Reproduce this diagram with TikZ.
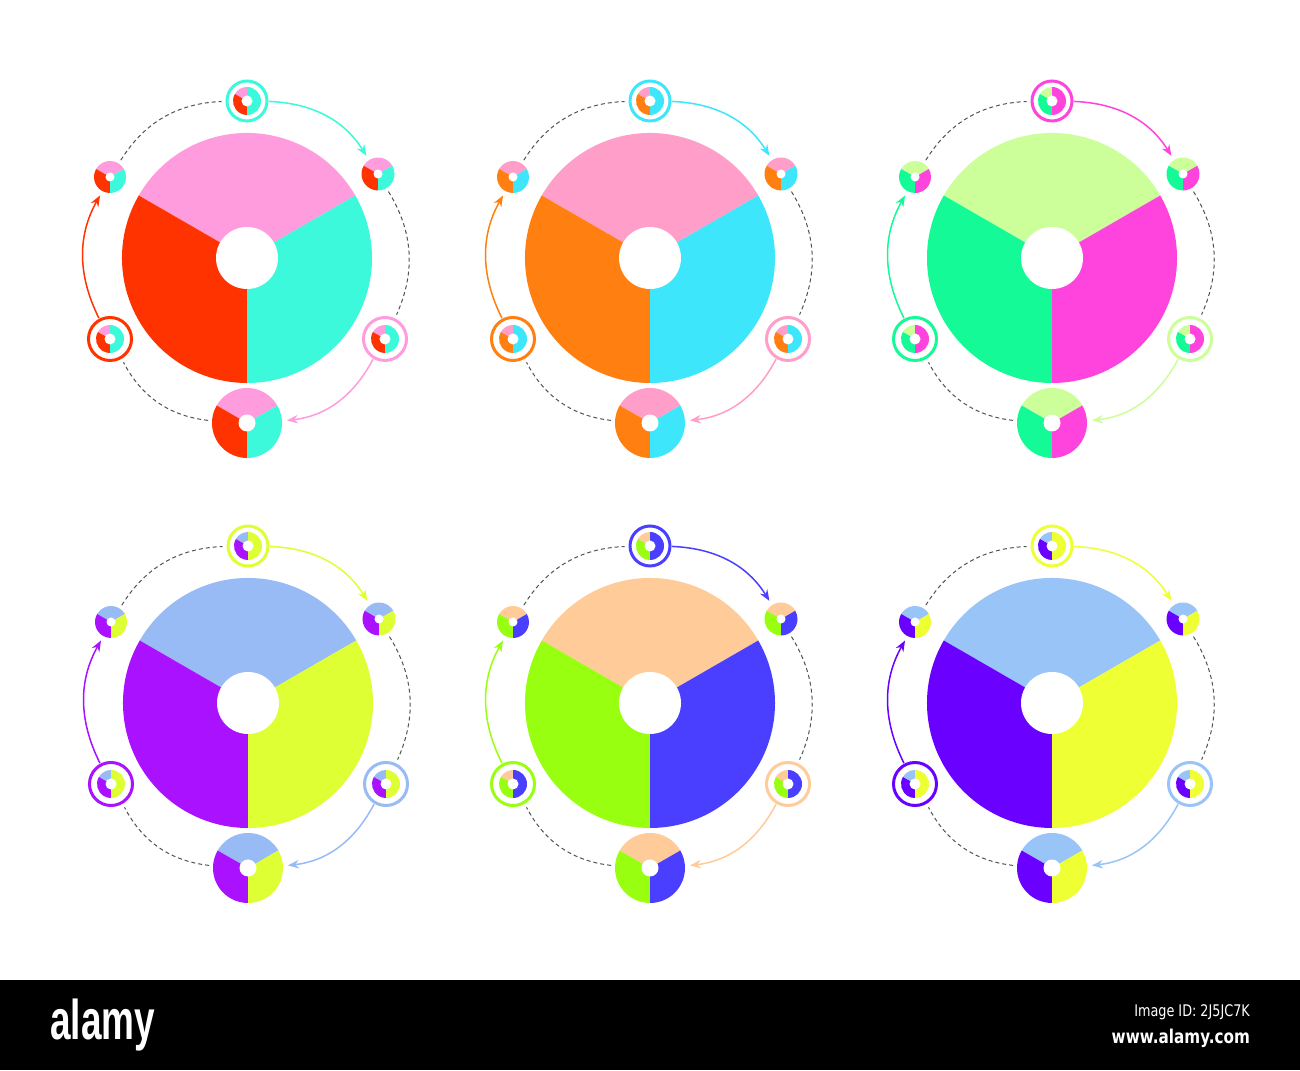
\documentclass[tikz,border=0pt]{standalone}
\usepackage{fontspec}
\setmainfont{Liberation Sans}
\newfontfamily\sidefont{DejaVu Sans}
\usetikzlibrary{arrows.meta}
\definecolor{dashgray}{HTML}{4A5753}
\definecolor{aTop}{HTML}{FF9CDE}\definecolor{aLeft}{HTML}{FF3300}\definecolor{aRight}{HTML}{3DF9DC}
\definecolor{bTop}{HTML}{FF9EC8}\definecolor{bLeft}{HTML}{FF7F10}\definecolor{bRight}{HTML}{3DE6FA}
\definecolor{cTop}{HTML}{CCFF99}\definecolor{cLeft}{HTML}{14FA96}\definecolor{cRight}{HTML}{FF44DD}
\definecolor{dTop}{HTML}{99BBF5}\definecolor{dLeft}{HTML}{AA11FF}\definecolor{dRight}{HTML}{DDFF33}
\definecolor{eTop}{HTML}{FFCC99}\definecolor{eLeft}{HTML}{99FF11}\definecolor{eRight}{HTML}{4B3FFF}
\definecolor{fTop}{HTML}{99C4F8}\definecolor{fLeft}{HTML}{6A00FF}\definecolor{fRight}{HTML}{EEFF33}
\tikzset{
  spot/.style={circle,inner sep=0pt,outer sep=0pt,draw=none},
  flow/.style={line width=1.5pt,-{Stealth[length=11pt,width=8.5pt]},shorten >=5pt,shorten <=0.5pt,bend left=28},
  dashlink/.style={dash pattern=on 4pt off 3pt,line width=1pt,draw=dashgray,shorten >=4pt,shorten <=4pt,bend left=28},
  ringline/.style={line width=3pt}
}
% pie: #1 node, #2 radius, #3 hole, #4 top, #5 left, #6 right
\newcommand\pieat[6]{%
  \fill[#4] (#1.center) -- ++(30:#2pt) arc[start angle=30,end angle=150,radius=#2pt] -- cycle;
  \fill[#5] (#1.center) -- ++(150:#2pt) arc[start angle=150,end angle=270,radius=#2pt] -- cycle;
  \fill[#6] (#1.center) -- ++(-90:#2pt) arc[start angle=-90,end angle=30,radius=#2pt] -- cycle;
  \fill[white] (#1.center) circle[radius=#3pt];}
% ring with donut: #1 node, #2 ring radius, #3 ring colour, #4 top, #5 left, #6 right
\newcommand\ringat[6]{%
  \draw[ringline,#3] (#1.center) circle[radius=#2pt];
  \fill[#4] (#1.center) -- ++(90:14pt) arc[start angle=90,end angle=150,radius=14pt] -- cycle;
  \fill[#5] (#1.center) -- ++(150:14pt) arc[start angle=150,end angle=270,radius=14pt] -- cycle;
  \fill[#6] (#1.center) -- ++(-90:14pt) arc[start angle=-90,end angle=90,radius=14pt] -- cycle;
  \fill[white] (#1.center) circle[radius=5.5pt];}
% diagram: #1 prefix, #2 cx, #3 cy, #4 top, #5 left, #6 right
\newcommand\cyclediagram[6]{%
\begin{scope}[shift={(#2,#3)}]
  \node[spot,minimum size=250pt] (#1-main) at (0,0) {};
  \pieat{#1-main}{125}{31}{#4}{#5}{#6}
  \node[spot,minimum size=43pt] (#1-t) at (0,157) {};
  \node[spot,minimum size=33pt] (#1-tr) at (131,84) {};
  \node[spot,minimum size=46pt] (#1-lr) at (138,-81) {};
  \node[spot,minimum size=70pt] (#1-b) at (0,-165) {};
  \node[spot,minimum size=46pt] (#1-ll) at (-137,-81) {};
  \node[spot,minimum size=32pt] (#1-tl) at (-137,81) {};
  \ringat{#1-t}{20}{#6}{#4}{#5}{#6}
  \pieat{#1-tr}{16.5}{4.5}{#4}{#5}{#6}
  \ringat{#1-lr}{21.5}{#4}{#4}{#5}{#6}
  \pieat{#1-b}{35}{8.5}{#4}{#5}{#6}
  \ringat{#1-ll}{21.5}{#5}{#4}{#5}{#6}
  \pieat{#1-tl}{16}{4.5}{#4}{#5}{#6}
  \draw[flow,color=#6] (#1-t) to (#1-tr);
  \draw[dashlink] (#1-tr) to (#1-lr);
  \draw[flow,color=#4] (#1-lr) to (#1-b);
  \draw[dashlink] (#1-b) to (#1-ll);
  \draw[flow,color=#5] (#1-ll) to (#1-tl);
  \draw[dashlink] (#1-tl) to (#1-t);
\end{scope}}
\begin{document}
\begin{tikzpicture}[x=1pt,y=1pt]
\useasboundingbox (0,0) rectangle (1300,1070);
\fill[white] (0,0) rectangle (1300,1070);
\cyclediagram{a}{247}{812}{aTop}{aLeft}{aRight}
\cyclediagram{b}{650}{812}{bTop}{bLeft}{bRight}
\cyclediagram{c}{1052}{812}{cTop}{cLeft}{cRight}
\cyclediagram{d}{248}{367}{dTop}{dLeft}{dRight}
\cyclediagram{e}{650}{367}{eTop}{eLeft}{eRight}
\cyclediagram{f}{1052}{367}{fTop}{fLeft}{fRight}
% bottom bar
\node[fill=black,minimum width=1300pt,minimum height=90pt,inner sep=0pt,anchor=south west] (bar) at (0,0) {};
\node[text=white,anchor=west,inner sep=0pt] (logo) at (50,45) {\scalebox{0.66}[1]{\fontsize{56}{56}\selectfont\bfseries alamy}};
\node[text=white,anchor=east,inner sep=0pt] (imgid) at (1250,58) {\scalebox{0.8}[1]{\sidefont\fontsize{16}{16}\selectfont Image ID: 2J5JC7K}};
\node[text=white,anchor=east,inner sep=0pt] (site) at (1250,32) {\scalebox{0.8}[1]{\sidefont\fontsize{19}{19}\selectfont\bfseries www.alamy.com}};
\end{tikzpicture}
\end{document}
